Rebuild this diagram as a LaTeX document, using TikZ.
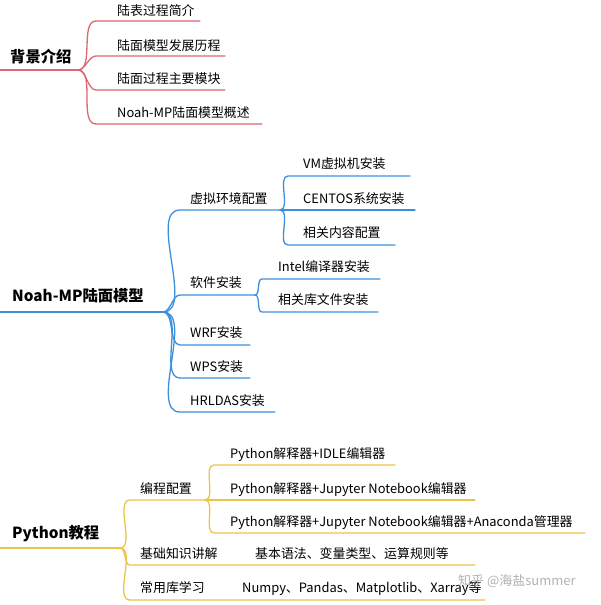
\documentclass[tikz,border=0pt]{standalone}
\usepackage{fontspec}
\setmainfont{Noto Sans CJK SC}
\begin{document}
\begin{tikzpicture}[x=1pt,y=-1pt,
  lbl/.style={anchor=base west,inner sep=0pt,font=\fontsize{12.9}{14}\selectfont},
  root/.style={anchor=base west,inner sep=0pt,font=\fontsize{15.3}{17}\selectfont\bfseries},
  ln/.style={line width=1.3pt,line cap=round},
  cv/.style={ln,out=0,in=180,looseness=0.8}]
\definecolor{cr}{HTML}{E06670}
\definecolor{cb}{HTML}{3C8FDD}
\definecolor{cy}{HTML}{EBC54A}
\useasboundingbox (0,0) rectangle (600,605);
\fill[white] (0,0) rectangle (600,605);
% ---------- section 1
\node[root] (r1) at (10,62) {背景介绍};
\node[lbl] (a1) at (117,15) {陆表过程简介};
\node[lbl] (a2) at (117,50) {陆面模型发展历程};
\node[lbl] (a3) at (117,83) {陆面过程主要模块};
\node[lbl] (a4) at (117,117) {Noah-MP陆面模型概述};
\begin{scope}[color=cr]
\draw[ln] (0,70) -- (78,70) coordinate (r1e);
\draw[cv] (r1e) to (96,21) -- (200,21);
\draw[cv] (r1e) to (96,56) -- (225,56);
\draw[cv] (r1e) to (96,90) -- (225,90);
\draw[cv] (r1e) to (96,124) -- (262,124);
\end{scope}
% ---------- section 2
\node[root] (r2) at (12,301) {Noah-MP陆面模型};
\node[lbl] (b1) at (190,203) {虚拟环境配置};
\node[lbl] (b11) at (303,168) {VM虚拟机安装};
\node[lbl] (b12) at (303,203) {CENTOS系统安装};
\node[lbl] (b13) at (303,237) {相关内容配置};
\node[lbl] (b2) at (190,287) {软件安装};
\node[lbl] (b21) at (278,271) {Intel编译器安装};
\node[lbl] (b22) at (278,304) {相关库文件安装};
\node[lbl] (b3) at (190,337) {WRF安装};
\node[lbl] (b4) at (190,371) {WPS安装};
\node[lbl] (b5) at (190,405) {HRLDAS安装};
\begin{scope}[color=cb]
\draw[ln] (0,312) -- (163,312) coordinate (r2e);
\draw[cv] (r2e) to (180,210) -- (280,210) coordinate (b1e);
\draw[cv] (r2e) to (180,295) -- (255,295) coordinate (b2e);
\draw[cv] (r2e) to (180,345) -- (250,345);
\draw[cv] (r2e) to (180,378) -- (250,378);
\draw[cv] (r2e) to (180,412) -- (275,412);
\draw[cv] (b1e) to (288,176) -- (410,176);
\draw[cv] (b1e) to (288,210) -- (415,210);
\draw[cv] (b1e) to (288,245) -- (395,245);
\draw[cv] (b2e) to (262,279) -- (380,279);
\draw[cv] (b2e) to (262,312) -- (378,312);
\end{scope}
% ---------- section 3
\node[root] (r3) at (12,538) {Python教程};
\node[lbl] (c1) at (140,493) {编程配置};
\node[lbl] (c11) at (230,458) {Python解释器+IDLE编辑器};
\node[lbl] (c12) at (230,493) {Python解释器+Jupyter Notebook编辑器};
\node[lbl] (c13) at (230,526) {Python解释器+Jupyter Notebook编辑器+Anaconda管理器};
\node[lbl] (c2) at (140,558) {基础知识讲解};
\node[lbl] (c21) at (255,558) {基本语法、变量类型、运算规则等};
\node[lbl] (c3) at (140,592) {常用库学习};
\node[lbl] (c31) at (242,592) {Numpy、Pandas、Matplotlib、Xarray等};
\begin{scope}[color=cy]
\draw[ln] (0,548) -- (120,548) coordinate (r3e);
\draw[cv] (r3e) to (130,500) -- (205,500) coordinate (c1e);
\draw[cv] (r3e) to (130,565) -- (238,565) -- (475,565);
\draw[cv] (r3e) to (130,600) -- (228,600) -- (485,600);
\draw[cv] (c1e) to (214,465) -- (395,465);
\draw[cv] (c1e) to (214,500) -- (475,500);
\draw[cv] (c1e) to (214,533) -- (585,533);
\end{scope}
\node[anchor=base west,inner sep=0pt,text=gray!60,font=\fontsize{13}{13}\selectfont] (wm) at (458,585) {知乎 @海盐summer};
\end{tikzpicture}
\end{document}
